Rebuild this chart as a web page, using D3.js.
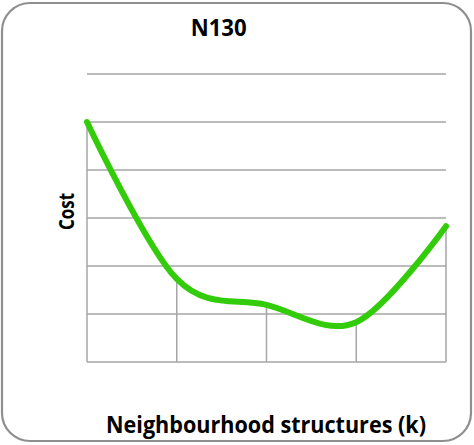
<!DOCTYPE html>
<html>
<head>
<meta charset="utf-8">
<script src="https://cdn.jsdelivr.net/npm/d3@7"></script>
<style>
  body { margin: 0; background: #fff; }
  text { font-family: "Open Sans", sans-serif; font-weight: bold; fill: #000; }
</style>
</head>
<body>
<div id="chart"></div>
<script>
// Data (no tick labels shown, so y is in grid units)
const categories = ["k1", "k2", "k3", "k4", "k5"];
const costs = [5.0, 1.73, 1.19, 0.83, 2.83];
const gridTicks = [0, 1, 2, 3, 4, 5, 6];

const width = 474, height = 445;

const svg = d3.select("#chart")
    .append("svg")
    .attr("width", width)
    .attr("height", height);

// Rounded frame
svg.append("rect")
    .attr("x", 2).attr("y", 3)
    .attr("width", 469).attr("height", 438)
    .attr("rx", 28).attr("ry", 28)
    .attr("fill", "#fff")
    .attr("stroke", "#8f8f8f")
    .attr("stroke-width", 2.2);

const x = d3.scalePoint()
    .domain(categories)
    .range([87, 446]);

const y = d3.scaleLinear()
    .domain([0, 6])
    .range([362, 74]);

// Horizontal gridlines
svg.append("g")
    .selectAll("line")
    .data(gridTicks)
    .join("line")
    .attr("x1", x(categories[0]))
    .attr("x2", x(categories[categories.length - 1]))
    .attr("y1", d => y(d))
    .attr("y2", d => y(d))
    .attr("stroke", "#a6a6a6")
    .attr("stroke-width", 1.5);

// Drop lines from each point to the axis
svg.append("g")
    .selectAll("line")
    .data(categories)
    .join("line")
    .attr("x1", d => x(d))
    .attr("x2", d => x(d))
    .attr("y1", (d, i) => y(costs[i]))
    .attr("y2", y(0))
    .attr("stroke", "#a6a6a6")
    .attr("stroke-width", 1.5);

// Smoothed line
const line = d3.line()
    .x((d, i) => x(categories[i]))
    .y(d => y(d))
    .curve(d3.curveCatmullRom.alpha(0));

svg.append("path")
    .datum(costs)
    .attr("d", line)
    .attr("fill", "none")
    .attr("stroke", "#33cc0a")
    .attr("stroke-width", 6)
    .attr("stroke-linecap", "round");

// Texts
svg.append("text")
    .attr("x", 218.7).attr("y", 36)
    .attr("text-anchor", "middle")
    .attr("font-size", 23)
    .attr("textLength", 56)
    .attr("lengthAdjust", "spacingAndGlyphs")
    .text("N130");

svg.append("text")
    .attr("transform", "translate(74,211.5) rotate(-90)")
    .attr("text-anchor", "middle")
    .attr("font-size", 22)
    .attr("textLength", 37)
    .attr("lengthAdjust", "spacingAndGlyphs")
    .text("Cost");

svg.append("text")
    .attr("x", 266).attr("y", 433)
    .attr("text-anchor", "middle")
    .attr("font-size", 24)
    .attr("textLength", 320)
    .attr("lengthAdjust", "spacingAndGlyphs")
    .text("Neighbourhood structures (k)");
</script>
</body>
</html>
